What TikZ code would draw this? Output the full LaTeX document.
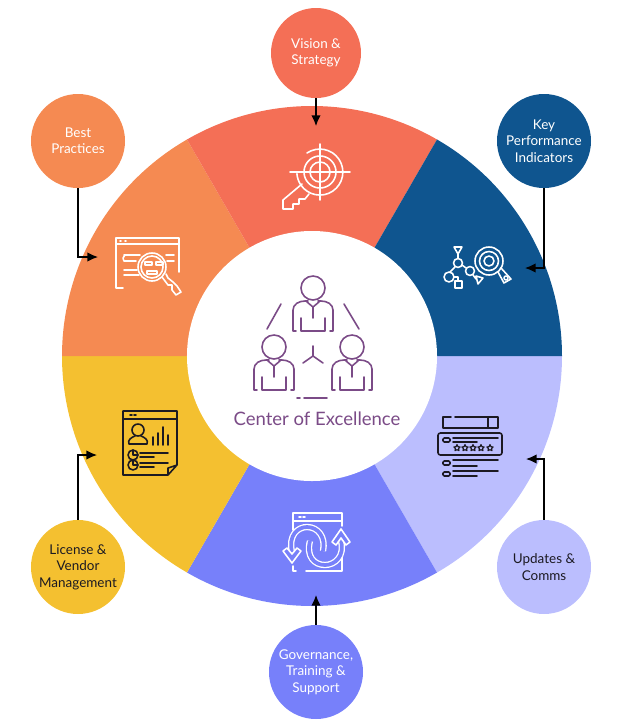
\documentclass[tikz,border=0pt]{standalone}
\usepackage{fontspec}
\setmainfont{Lato}
\usetikzlibrary{shapes,arrows.meta,positioning,calc}
\definecolor{visionred}{HTML}{F46F56}
\definecolor{kpiblue}{HTML}{0F558F}
\definecolor{updatelilac}{HTML}{BBBEFE}
\definecolor{govblue}{HTML}{7780FA}
\definecolor{licenseyellow}{HTML}{F4C030}
\definecolor{bestorange}{HTML}{F58A52}
\definecolor{coepurple}{HTML}{7B4B87}
\definecolor{inkdark}{HTML}{1C1A22}
\newcommand{\personicon}[2]{
    \begin{scope}[shift={(#1,#2)}, icon, draw=coepurple]
        \draw (0,0) circle (12);
        \draw (-17,43) -- (-20,43) -- (-20,22) to[out=-90,in=180] (-8,13) -- (-5,13);
        \draw (17,43) -- (20,43) -- (20,22) to[out=-90,in=0] (8,13) -- (5,13);
        \draw (-6,14) -- (0,19) -- (6,14) (0,19) -- (0,30);
        \draw (-12,30) -- (-12,43) -- (12,43) -- (12,30);
    \end{scope}
}
\newcommand{\pieicon}[2]{
    \draw (#1,#2) circle (5);
    \draw (#1,#2) -- ++(0,-5) (#1,#2) -- ++(5,0);
}
\begin{document}
\begin{tikzpicture}[
    x=0.03cm, y=0.03cm, yscale=-1,
    hub/.style={circle, minimum size=2.82cm, inner sep=0pt, align=center, font=\fontsize{11.5}{14}\selectfont},
    arrow/.style={-{Latex[length=9pt,width=8pt]}, line width=1.1pt, black},
    icon/.style={line width=1.35pt, line cap=round, line join=round},
    flow/.style={white, double=govblue, double distance=3.2pt, line width=1.1pt, line cap=butt}
]
    \useasboundingbox (0,0) rectangle (617,720);
    \coordinate (ring) at (312,356);

    \foreach \ang/\col in {0/updatelilac,60/govblue,120/licenseyellow,180/bestorange,240/visionred,300/kpiblue}{
        \fill[\col] (ring) -- ($(ring)+(\ang:250)$) arc[start angle=\ang, delta angle=60, radius=250] -- cycle;
    }
    \node[circle, fill=white, minimum size=7.5cm, inner sep=0pt] (core) at (ring) {};
    \node[font=\fontsize{15.8}{18}\selectfont, text=coepurple] (coe) at (317,419) {Center of Excellence};

    \node[hub, fill=visionred, minimum size=2.7cm, text=white] (vision) at (316,53) {Vision \&\\Strategy};
    \node[hub, fill=bestorange, text=white] (best) at (78,141) {Best\\Practices};
    \node[hub, fill=kpiblue, text=white] (kpi) at (544,141) {Key\\Performance\\Indicators};
    \node[hub, fill=updatelilac, text=inkdark] (updates) at (544,567) {Updates \&\\Comms};
    \node[hub, fill=govblue, text=white] (gov) at (316,672) {Governance,\\Training \&\\Support};
    \node[hub, fill=licenseyellow, text=inkdark] (license) at (78,567) {License \&\\Vendor\\Management};

    \coordinate (visionend) at (316,126);
    \coordinate (bestend) at (98,257);
    \coordinate (kpiend) at (525,268);
    \coordinate (updatesend) at (526,459);
    \coordinate (govend) at (316,595);
    \coordinate (licenseend) at (97,455);

    \draw[arrow] (vision) -- (visionend);
    \draw[arrow] (best.south) |- (bestend);
    \draw[arrow] (kpi.south) |- (kpiend);
    \draw[arrow] (updates.north) |- (updatesend);
    \draw[arrow] (gov) -- (govend);
    \draw[arrow] (license.north) |- (licenseend);

    \personicon{313}{288}
    \personicon{274}{347}
    \personicon{352}{347}
    \begin{scope}[icon, draw=coepurple]
        \draw (281,304) -- (267,329) (344,304) -- (359,329);
        \draw (313,346) -- (313,356) -- (303,363) (313,356) -- (323,363);
        \draw (297,398) -- (300,398) (304,398) -- (327,398);
    \end{scope}

    \begin{scope}[shift={(320,172)}, icon, white]
        \draw (-13,-19) arc[start angle=236, delta angle=300, radius=23];
        \draw (0,0) circle (16) (0,0) circle (10);
        \draw (-30,0) -- (30,0) (0,-28) -- (0,28);
        \draw (-5,0) -- (5,0) (0,-5) -- (0,5);
        \draw (-18,12) -- (-37,28) -- (-37,37) -- (-27,37) -- (-27,32) -- (-21,32) -- (-21,27) -- (-15,27) -- (-11,22);
    \end{scope}

    \begin{scope}[icon, white]
        \draw (489,261) circle (14) (489,261) circle (9.5) (489,261) circle (5);
        \draw (498,272) -- (504,283) -- (511,279) -- (501,268);
        \draw (506,278) circle (2);
        \draw (458,263) circle (4.5) (470,271) circle (4.5) (449,277) circle (5);
        \draw (454,247) -- (462,247) -- (458,254) -- cycle;
        \draw (458,254) -- (458,258) (462,265) -- (466,268) (455,267) -- (450,272);
        \draw (455,281) rectangle (462,288);
        \draw (454,277) -- (458,277) -- (458,281);
        \draw (473,275) -- (476,279) (476,276) -- (483,278) -- (478,284) -- cycle;
    \end{scope}

    \begin{scope}[icon, white]
        \draw (123,288) -- (116,288) -- (116,238) -- (179,238) -- (179,272);
        \draw (116,244) -- (179,244) (120,241) -- (121,241) (125,241) -- (126,241);
        \draw (152,267) circle (14) (152,267) circle (11);
        \draw (124,255) -- (140,255) (124,261) -- (136,261) (124,270) -- (137,270) (124,275) -- (139,275) (125,255) -- (123,258) -- (124,261);
        \draw (166,255) -- (174,255) (167,261) -- (174,261);
        \draw (145,262) rectangle (152,265) (156,262) rectangle (163,265) (147,271) rectangle (157,274);
        \draw (162,277) -- (168,285) -- (172,285) -- (172,290) -- (176,295) -- (181,292) -- (177,286) -- (173,282) -- (168,278) -- (166,274);
    \end{scope}

    \begin{scope}[icon, draw=inkdark]
        \draw (168,475) -- (123,475) -- (123,411) -- (177,411) -- (177,465) -- (168,475) -- (168,468) -- (177,465);
        \draw (123,419) -- (177,419) (130,415) -- (132,415) (134,415) -- (136,415);
        \draw (138,430) circle (6);
        \draw (129,444) .. controls (127,440) and (132,437) .. (135,436) (141,436) .. controls (144,437) and (149,440) .. (147,444) -- (129,444);
        \draw (153,445) -- (153,437) (158,445) -- (158,433) (163,445) -- (163,427) (168,445) -- (168,435);
        \pieicon{133}{455}
        \pieicon{133}{465}
        \draw (140,453) -- (168,453) (140,457) -- (154,457) (140,463) -- (168,463) (140,467) -- (154,467);
    \end{scope}

    \begin{scope}[icon, draw=inkdark]
        \draw (451,417) -- (443,417) -- (443,428) -- (498,428) -- (498,417) -- (455,417) (488,417) -- (488,428);
        \draw[rounded corners=2pt] (438,433) rectangle (502,455);
        \draw[rounded corners=1pt] (443,438) rectangle (450,442);
        \draw (453,438) -- (498,438) (453,442) -- (477,442);
        \foreach \sx in {457,465,473,481,490}{
            \node[star, star points=5, star point ratio=2, draw=inkdark, line width=1pt, inner sep=0pt, minimum size=0.2cm] (star\sx) at (\sx,448) {};
        }
        \draw[rounded corners=1pt] (443,461) rectangle (450,465) (443,472) rectangle (450,476);
        \draw (453,460) -- (498,460) (453,466) -- (477,466) (453,471) -- (498,471) (453,476) -- (477,476);
    \end{scope}

    \begin{scope}[icon, white]
        \draw (293,530) -- (293,513) -- (342,513) -- (342,526) (342,550) -- (342,571) -- (306,571) (293,566) -- (293,571) -- (296,571);
        \draw (293,521) -- (342,521) (299,517) -- (301,517) (303,517) -- (305,517);
        \draw[flow] (292,552) .. controls (288,535) and (298,527) .. (307,527) .. controls (318,527) and (326,537) .. (323,551);
        \draw[flow] (341,541) .. controls (345,556) and (335,565) .. (325,565) .. controls (314,565) and (306,556) .. (310,541);
        \draw[fill=govblue] (283,551) -- (292,563) -- (301,551) -- (297,548) -- (292,554) -- (287,548) -- cycle;
        \draw[fill=govblue] (332,542) -- (341,529) -- (350,542) -- (346,545) -- (341,538) -- (336,545) -- cycle;
    \end{scope}
\end{tikzpicture}
\end{document}
